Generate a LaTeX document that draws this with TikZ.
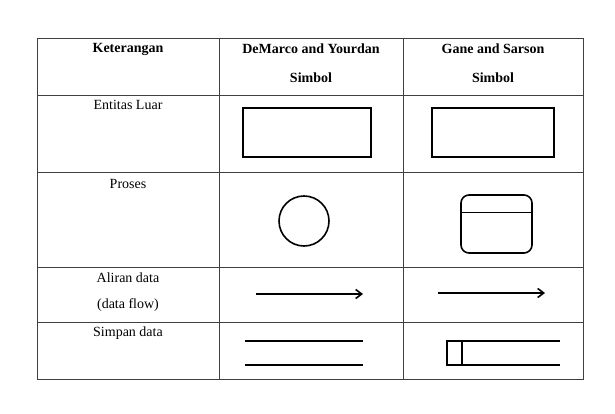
\documentclass[tikz,border=0pt]{standalone}
\usepackage{fontspec}
\setmainfont{Liberation Serif}
\usetikzlibrary{arrows.meta}
\begin{document}
\begin{tikzpicture}[x=1pt,y=-1pt,
  grid/.style={draw=black!75,line width=0.8pt},
  sym/.style={draw=black,line width=1.6pt},
  txt/.style={inner sep=0pt,font=\fontsize{14}{16}\selectfont},
  hdr/.style={txt,font=\fontsize{14}{16}\selectfont\bfseries},
  flow/.style={sym,-{Straight Barb[length=6pt,width=9pt]}}]
\useasboundingbox (0,0) rectangle (615,414);
\draw[grid] (37,38) rectangle (583,379);
\foreach \x in {219,403} \draw[grid] (\x,38) -- (\x,379);
\foreach \y in {95,172,267,322} \draw[grid] (37,\y) -- (583,\y);
\node[hdr] (h1) at (128,49) {Keterangan};
\node[hdr] (h2a) at (311,49) {DeMarco and Yourdan};
\node[hdr] (h2b) at (311,78) {Simbol};
\node[hdr] (h3a) at (493,49) {Gane and Sarson};
\node[hdr] (h3b) at (493,78) {Simbol};
\node[txt] (t1) at (128,105) {Entitas Luar};
\node[txt] (t2) at (128,184) {Proses};
\node[txt] (t3a) at (128,278) {Aliran data};
\node[txt] (t3b) at (128,305) {(data flow)};
\node[txt] (t4) at (128,333) {Simpan data};
\draw[sym] (243,108) rectangle (371,157);
\draw[sym] (432,108) rectangle (554,157);
\draw[sym] (304,221) circle (25);
\draw[sym,rounded corners=8pt] (461,195) rectangle (532,253);
\draw[line width=0.8pt] (462,212) -- (531,212);
\coordinate (a1) at (256,294); \coordinate (a2) at (363,294);
\draw[flow] (a1) -- (a2);
\coordinate (b1) at (438,293); \coordinate (b2) at (545,293);
\draw[flow] (b1) -- (b2);
\draw[sym] (245,341) -- (363,341);
\draw[sym] (245,365) -- (363,365);
\draw[sym] (560,341) -- (447,341) -- (447,365) -- (560,365);
\draw[sym] (462,341) -- (462,365);
\end{tikzpicture}
\end{document}
